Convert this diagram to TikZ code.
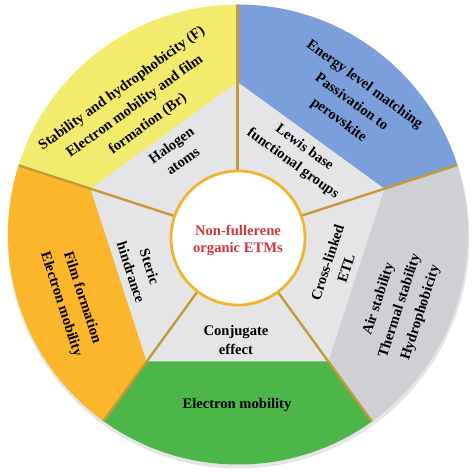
\documentclass[tikz,border=0pt]{standalone}
\usepackage{fontspec}
\setmainfont{Liberation Serif}
\usepackage{xcolor}
\usepackage{tikz}

\definecolor{segyellow}{HTML}{F2EC6E}
\definecolor{segblue}{HTML}{7B9FDA}
\definecolor{seggray}{HTML}{CFD0D3}
\definecolor{seggreen}{HTML}{4CB649}
\definecolor{segorange}{HTML}{FBB62B}
\definecolor{pentgray}{HTML}{E5E5E8}
\definecolor{divgold}{HTML}{C49B37}
\definecolor{coregold}{HTML}{F1B42D}
\definecolor{etmred}{HTML}{D0363C}

\begin{document}
\begin{tikzpicture}[
  x=1pt, y=1pt,
  every node/.style={align=center, text=black},
  inner/.style={font=\fontsize{14.6}{19.5}\selectfont\bfseries},
  outer/.style={font=\fontsize{14.6}{22}\selectfont\bfseries},
  divider/.style={draw=divgold, line width=2.4pt}
]
\useasboundingbox (-237.5,-236.5) rectangle (236.5,236.5);

% Shadow of the wheel
\fill[black!10] (1,-1) circle[radius=231];

% Coloured sectors, grey pentagon and dividers
\begin{scope}
  \clip (0.5,2) circle[radius=230];
  \foreach \a/\c in {90/segyellow, 18/segblue, -54/seggray, -126/seggreen, 162/segorange}
    \fill[\c] (0,0) -- (\a:300) arc[start angle=\a, end angle=\a+72, radius=300] -- cycle;
  \fill[pentgray] (90:154.5) -- (162:154.5) -- (234:154.5) -- (306:154.5) -- (18:154.5) -- cycle;
  \foreach \a in {90,18,-54,-126,162}
    \draw[divider] (\a:60) -- (\a:300);
\end{scope}

% Centre
\draw[draw=coregold, fill=white, line width=2.8pt] (0.5,-1.5) circle[radius=67];
\node[font=\fontsize{14.6}{17.5}\selectfont\bfseries, text=etmred] (core) at (0.5,-4)
   {Non-fullerene\\organic ETMs};

% Strategies (inner ring)
\node[inner, rotate=36] (halogen) at (-60.5,83.5) {Halogen\\atoms};
\node[inner, rotate=-36] (lewis) at (61,80.5) {Lewis base\\functional groups};
\node[inner, rotate=72] (crosslink) at (99,-29) {Cross-linked\\ETL};
\node[inner] (conjugate) at (-1.5,-103.5) {Conjugate\\effect};
\node[inner, rotate=-72] (steric) at (-97,-33) {Steric\\hindrance};

% Effects (outer ring)
\node[outer, rotate=36] (halogeneff) at (-102.5,130)
   {Stability and hydrophobicity (F)\\Electron mobility and film\\formation (Br)};
\node[outer, rotate=-36] (lewiseff) at (114,134)
   {Energy level matching\\Passivation to\\perovskite};
\node[outer, rotate=72] (crosslinkeff) at (162.5,-69.5)
   {Air stability\\Thermal stability\\Hydrophobicity};
\node[outer] (conjugateeff) at (-0.5,-168.5) {Electron mobility};
\node[outer, rotate=-72] (stericeff) at (-166,-64.5)
   {Film formation\\Electron mobility};

\end{tikzpicture}
\end{document}
